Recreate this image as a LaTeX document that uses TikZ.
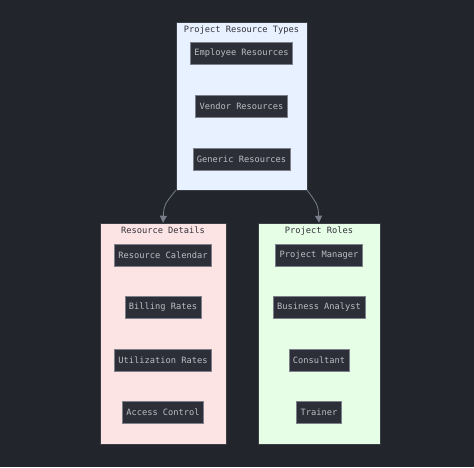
\documentclass[tikz,border=0pt]{standalone}
\usepackage{fontspec}
\setmonofont{DejaVu Sans Mono}
\usetikzlibrary{arrows.meta}

\begin{document}
\begin{tikzpicture}[x=1pt, y=-1pt,
    item/.style={draw=myitemline, fill=myitem, text=mytext, line width=0.5pt,
        minimum height=22pt, inner xsep=4pt, inner ysep=0pt,
        font=\fontsize{8.7}{10}\selectfont\ttfamily},
    cluster/.style={draw=mybox, line width=0.6pt, inner sep=0pt},
    title/.style={text=mytitle, anchor=north, inner sep=0pt,
        font=\fontsize{8.7}{10}\selectfont\ttfamily},
    link/.style={draw=myedge, line width=0.8pt,
        -{Triangle[length=7pt, width=7pt]}}]
    \definecolor{mybg}{RGB}{34,37,43}
    \definecolor{myitem}{RGB}{44,46,56}
    \definecolor{myitemline}{RGB}{125,128,138}
    \definecolor{mytext}{RGB}{190,190,196}
    \definecolor{mytitle}{RGB}{50,50,58}
    \definecolor{mybox}{RGB}{60,62,70}
    \definecolor{myedge}{RGB}{120,125,137}
    \definecolor{myblue}{RGB}{232,241,255}
    \definecolor{mypink}{RGB}{253,228,228}
    \definecolor{mygreen}{RGB}{230,253,230}

    \fill[mybg] (0,0) rectangle (474,467);
    \useasboundingbox (0,0) rectangle (474,467);

    % clusters
    \node[cluster, fill=myblue, minimum width=131pt, minimum height=168pt] (types) at (241.5,106) {};
    \node[cluster, fill=mypink, minimum width=126pt, minimum height=221pt] (details) at (163,333.5) {};
    \node[cluster, fill=mygreen, minimum width=122pt, minimum height=221pt] (roles) at (319,333.5) {};

    \node[title] (typest) at ([yshift=-4pt]types.north) {Project Resource Types};
    \node[title] (detailst) at ([yshift=-4pt]details.north) {Resource Details};
    \node[title] (rolest) at ([yshift=-4pt]roles.north) {Project Roles};

    % resource types
    \node[item] (employee) at (241.5,53.5) {Employee Resources};
    \node[item] (vendor) at (241.5,106) {Vendor Resources};
    \node[item] (generic) at (241.5,159) {Generic Resources};

    % resource details
    \node[item] (calendar) at (163,255) {Resource Calendar};
    \node[item] (billing) at (163,307) {Billing Rates};
    \node[item] (utilization) at (163,360) {Utilization Rates};
    \node[item] (access) at (163,412.5) {Access Control};

    % project roles
    \node[item] (manager) at (319,255) {Project Manager};
    \node[item] (analyst) at (319,307) {Business Analyst};
    \node[item] (consultant) at (319,360) {Consultant};
    \node[item] (trainer) at (319,412.5) {Trainer};

    \draw[link] (types.south west) .. controls (164,205) .. (details.north);
    \draw[link] (types.south east) .. controls (318,205) .. (roles.north);
\end{tikzpicture}
\end{document}
